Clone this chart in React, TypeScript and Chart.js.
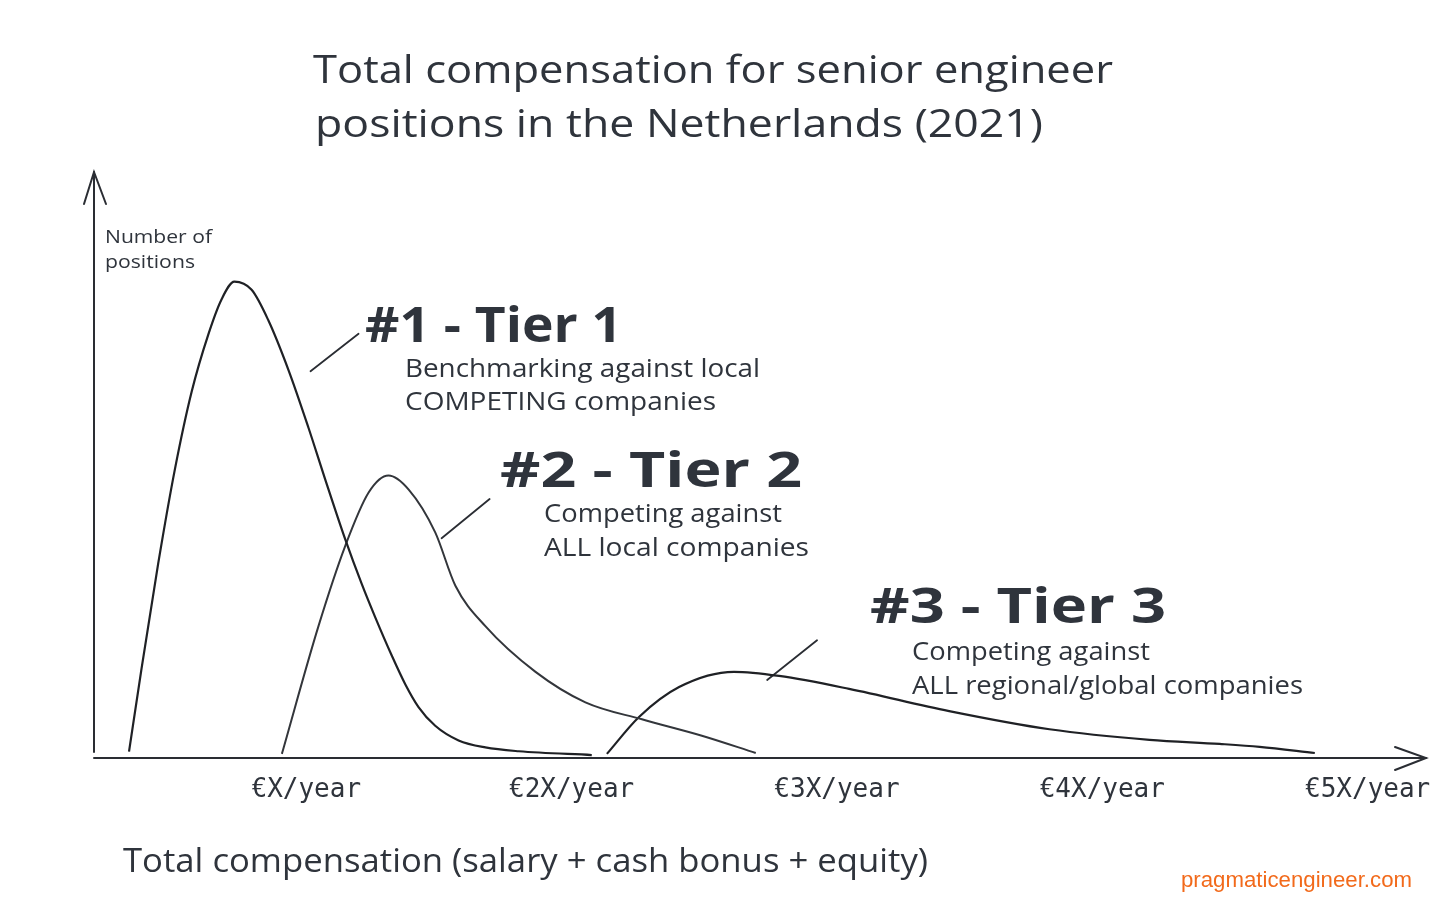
import React, { useEffect, useRef } from "react";
import { Chart, registerables } from "chart.js";

Chart.register(...registerables);

// ---- data (x in multiples of €X/year, y = relative number of positions) ----
const tier1X = [0.332, 0.379, 0.442, 0.505, 0.568, 0.631, 0.681, 0.729, 0.794, 0.857, 0.933, 1.008, 1.071, 1.147, 1.209, 1.26, 1.323, 1.373, 1.423, 1.486, 1.574, 1.675, 1.801, 2.076];
const tier1Y = [1.1, 15.2, 33.2, 49.3, 62.5, 72.3, 78.3, 81.3, 79.9, 74.7, 66.2, 56.4, 47.6, 37.3, 29.7, 24.0, 17.4, 12.6, 8.7, 5.5, 3.0, 1.8, 1.15, 0.5];

const tier2X = [0.908, 1.046, 1.147, 1.235, 1.31, 1.386, 1.486, 1.562, 1.675, 1.864, 2.052, 2.265, 2.491, 2.694];
const tier2Y = [0.7, 22.5, 36.2, 45.3, 48.2, 45.8, 38.5, 29.4, 22.5, 14.7, 9.5, 6.6, 3.8, 0.85];

const tier3X = [2.133, 2.254, 2.405, 2.612, 2.782, 3.046, 3.423, 3.801, 4.178, 4.442, 4.593, 4.801];
const tier3Y = [0.7, 7.0, 12.1, 14.7, 14.0, 11.8, 8.0, 4.9, 3.1, 2.4, 1.9, 0.85];

const tickValues = [1, 2, 3, 4, 5];
const tickLabels = ["€X/year", "€2X/year", "€3X/year", "€4X/year", "€5X/year"];

const titleLines = ["Total compensation for senior engineer", "positions in the Netherlands (2021)"];
const yAxisTitle = ["Number of", "positions"];
const xAxisTitle = "Total compensation (salary + cash bonus + equity)";
const tierHeadings = ["#1 - Tier 1", "#2 - Tier 2", "#3 - Tier 3"];
const tierNotes = [
  ["Benchmarking against local", "COMPETING companies"],
  ["Competing against", "ALL local companies"],
  ["Competing against", "ALL regional/global companies"],
];
// leader lines, in data coordinates [x1, y1, x2, y2]
const leaderLines = [
  [1.016, 66.0, 1.197, 72.4],
  [1.51, 37.5, 1.691, 44.2],
  [2.737, 13.3, 2.925, 20.1],
];
const watermark = "pragmaticengineer.com";

const INK = "#2f343c";
const LINE = "#1f2125";
const HAND = '"Open Sans", "Noto Sans", sans-serif';

function fitText(
  ctx: CanvasRenderingContext2D,
  text: string,
  x: number,
  y: number,
  size: number,
  width: number,
  weight = "normal",
  family = HAND,
  color = INK
) {
  ctx.save();
  ctx.font = `${weight} ${size}px ${family}`;
  ctx.fillStyle = color;
  ctx.textBaseline = "alphabetic";
  ctx.textAlign = "left";
  const w = ctx.measureText(text).width;
  let sx = width / w;
  sx = Math.max(0.75, Math.min(1.35, sx));
  ctx.translate(x, y);
  ctx.scale(sx, 1);
  ctx.fillText(text, 0, 0);
  ctx.restore();
}

const sketchPlugin = {
  id: "sketch",
  beforeDatasetsDraw(chart: any) {
    const ctx: CanvasRenderingContext2D = chart.ctx;
    const xs = chart.scales.x;
    const ys = chart.scales.y;
    const x0 = xs.left;
    const x1 = xs.right;
    const yb = ys.getPixelForValue(0);
    const yt = ys.top;
    ctx.save();
    ctx.strokeStyle = "#2a2d33";
    ctx.lineWidth = 2;
    ctx.lineCap = "round";
    // y axis
    ctx.beginPath();
    ctx.moveTo(x0, yb - 6);
    ctx.lineTo(x0, yt);
    ctx.stroke();
    ctx.beginPath();
    ctx.moveTo(x0 - 10, yt + 32);
    ctx.lineTo(x0, yt);
    ctx.lineTo(x0 + 12, yt + 32);
    ctx.stroke();
    // x axis
    ctx.beginPath();
    ctx.moveTo(x0, yb);
    ctx.lineTo(x1, yb);
    ctx.stroke();
    ctx.beginPath();
    ctx.moveTo(x1 - 31, yb - 11);
    ctx.lineTo(x1, yb);
    ctx.lineTo(x1 - 31, yb + 12);
    ctx.stroke();
    // leader lines
    ctx.lineWidth = 1.8;
    leaderLines.forEach((l) => {
      ctx.beginPath();
      ctx.moveTo(xs.getPixelForValue(l[0]), ys.getPixelForValue(l[1]));
      ctx.lineTo(xs.getPixelForValue(l[2]), ys.getPixelForValue(l[3]));
      ctx.stroke();
    });
    ctx.restore();

    // tick labels
    ctx.save();
    ctx.font = '26px "DejaVu Sans Mono", monospace';
    ctx.fillStyle = INK;
    ctx.textAlign = "center";
    ctx.textBaseline = "alphabetic";
    tickValues.forEach((v, i) => {
      ctx.fillText(tickLabels[i], xs.getPixelForValue(v), yb + 39);
    });
    ctx.restore();
  },
  afterDraw(chart: any) {
    const ctx: CanvasRenderingContext2D = chart.ctx;
    // title
    fitText(ctx, titleLines[0], 313, 83, 38, 800);
    fitText(ctx, titleLines[1], 315, 137, 38, 728);
    // y axis title
    fitText(ctx, yAxisTitle[0], 105, 243, 19, 107);
    fitText(ctx, yAxisTitle[1], 105, 268, 19, 90);
    // tier annotations
    const heads = [
      [365, 342, 257],
      [500, 487, 302],
      [870, 623, 296],
    ];
    const notes = [
      [405, 377, 355, 410, 311],
      [544, 522, 238, 556, 265],
      [912, 660, 238, 694, 391],
    ];
    heads.forEach((h, i) => {
      fitText(ctx, tierHeadings[i], h[0], h[1], 48, h[2], "bold");
      const n = notes[i];
      fitText(ctx, tierNotes[i][0], n[0], n[1], 26, n[2]);
      fitText(ctx, tierNotes[i][1], n[0], n[3], 26, n[4]);
    });
    // x axis title
    fitText(ctx, xAxisTitle, 123, 872, 32, 805);
    // watermark
    fitText(ctx, watermark, 1181, 887, 22, 231, "normal", '"Liberation Sans", Arial, sans-serif', "#f26a1b");
  },
};

function makeData(xs: number[], ys: number[]) {
  return xs.map((x, i) => ({ x, y: ys[i] }));
}

export default function App() {
  const ref = useRef<HTMLCanvasElement | null>(null);
  useEffect(() => {
    document.body.style.margin = "0";
    document.body.style.overflow = "hidden";
    document.body.style.background = "#ffffff";
    const canvas = ref.current!;
    const dsBase = {
      borderColor: LINE,
      borderWidth: 2.2,
      pointRadius: 0,
      fill: false,
      cubicInterpolationMode: "monotone" as const,
    };
    const chart = new Chart(canvas, {
      type: "line",
      data: {
        datasets: [
          { ...dsBase, label: tierHeadings[0], data: makeData(tier1X, tier1Y) },
          { ...dsBase, label: tierHeadings[1], data: makeData(tier2X, tier2Y), borderColor: "#33363b", borderWidth: 2 },
          { ...dsBase, label: tierHeadings[2], data: makeData(tier3X, tier3Y) },
        ],
      },
      options: {
        responsive: false,
        animation: false,
        layout: { padding: { left: 94, right: 30, top: 172, bottom: 157 } },
        plugins: {
          legend: { display: false },
          tooltip: { enabled: false },
          title: { display: false },
        },
        scales: {
          x: { type: "linear", min: 0.2, max: 5.22, display: false },
          y: { type: "linear", min: 0, max: 100, display: false },
        },
      },
      plugins: [sketchPlugin],
    });
    return () => chart.destroy();
  }, []);
  return (
    <canvas
      ref={ref}
      width={1456}
      height={915}
      style={{ display: "block", width: 1456, height: 915, background: "#fff" }}
    />
  );
}
